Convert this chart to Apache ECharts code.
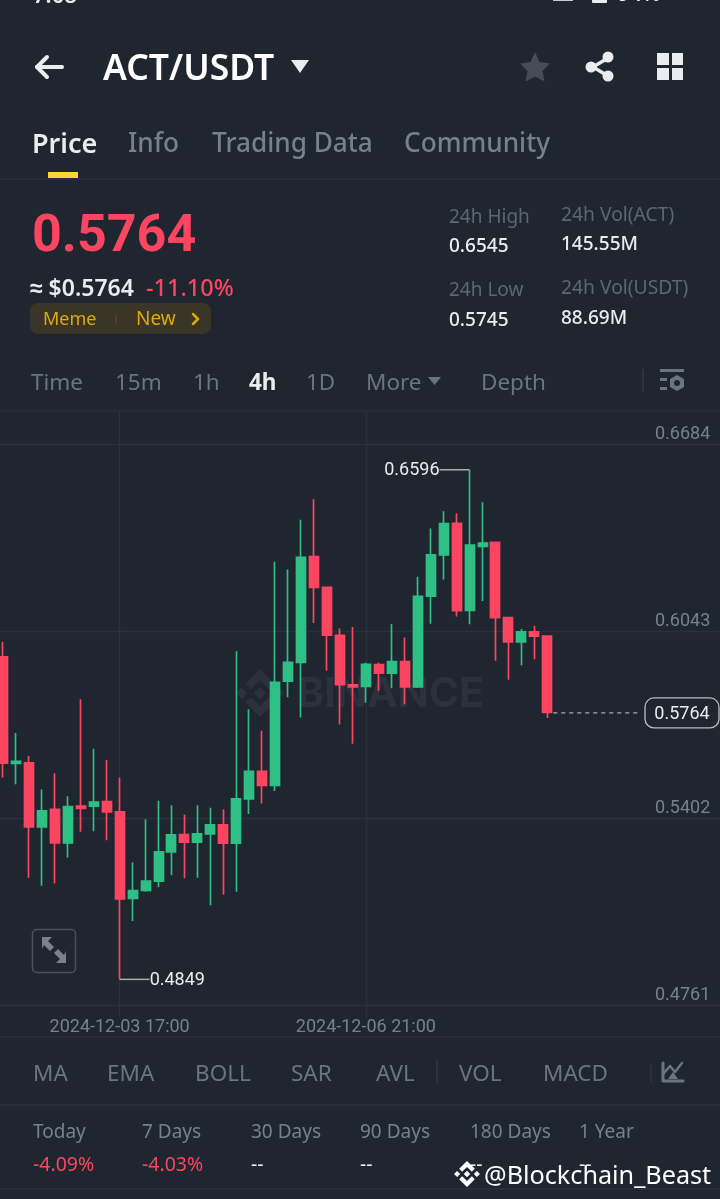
<!DOCTYPE html>
<html><head><meta charset="utf-8">
<style>html,body{margin:0;padding:0;background:#1f2630;overflow:hidden}#c{width:720px;height:1199px}</style>
<script src="https://cdn.jsdelivr.net/npm/echarts@6/dist/echarts.min.js"></script>
</head><body><div id="c"></div>
<script>
// ---- data ----
const opens  = [.5955,.5589,.5591,.5372,.5432,.5317,.5443,.5443,.5458,.5423,.5127,.5154,.5186,.5286,.5345,.5319,.5348,.5379,.5316,.5468,.5562,.5514,.5871,.5936,.6298,.6193,.6028,.5859,.5853,.5928,.5899,.5938,.5852,.6163,.6304,.6412,.6114,.6333,.6347,.6089,.6006,.6040,.6026];
const closes = [.5590,.5596,.5372,.5427,.5317,.5441,.5435,.5457,.5423,.5125,.5153,.5186,.5286,.5344,.5319,.5348,.5379,.5316,.5468,.5562,.5514,.5867,.5936,.6296,.6193,.6029,.5859,.5852,.5929,.5899,.5938,.5852,.6162,.6304,.6411,.6113,.6338,.6345,.6089,.6006,.6040,.6026,.5764];
const lows   = [.5541,.5518,.5197,.5170,.5178,.5267,.5355,.5357,.5326,.4849,.5049,.5149,.5165,.5206,.5196,.5197,.5103,.5139,.5149,.5416,.5452,.5495,.5816,.5747,.6071,.5907,.5723,.5657,.5797,.5838,.5847,.5792,.5848,.6068,.6220,.6093,.6066,.6146,.5941,.5876,.5926,.5946,.5745];
const highs  = [.6006,.5694,.5615,.5500,.5556,.5477,.5809,.5640,.5601,.5541,.5250,.5398,.5461,.5446,.5413,.5446,.5437,.5432,.5974,.5775,.5701,.6281,.6254,.6425,.6495,.6193,.6052,.6057,.5934,.5934,.6067,.6021,.6229,.6395,.6454,.6447,.6596,.6485,.6347,.6089,.6050,.6061,.6026];
const priceTicks = [.4761,.5402,.6043,.6684];
const timeTickIndex = [9,28];
const extremes = [[36,.6596,'left'],[9,.4849,'right']];
const lastPrice = [[42,.5764]];
const startTime = Date.UTC(2024,11,2,5);
const bandCount = 56;
const categories = [];
for(let i=0;i<bandCount;i++){const d=new Date(startTime+i*4*3600e3);
  const p=n=>String(n).padStart(2,'0');
  categories.push(`${d.getUTCFullYear()}-${p(d.getUTCMonth()+1)}-${p(d.getUTCDate())} ${p(d.getUTCHours())}:${p(d.getUTCMinutes())}`);}

const tabs = ['Price','Info','Trading Data','Community'];
const intervals = ['Time','15m','1h','4h','1D','More','Depth'];
const indicators = ['MA','EMA','BOLL','SAR','AVL','VOL','MACD'];
const periods = ['Today','7 Days','30 Days','90 Days','180 Days','1 Year'];
const periodValues = ['-4.09%','-4.03%','--','--','--','--'];

// ---- styles ----
const BG='#1f2630', LINE='#2a303c', RED='#fb4561', GREEN='#2fbf85', WHITE='#eaecef', GREY='#76808f', DIM='#6b7480';
const F='"Noto Sans",sans-serif';
function T(text,x,y,size,fill,weight,family,align){return {type:'text',silent:true,style:{text,x,y,fill,align:align||'left',verticalAlign:'middle',font:`${weight||400} ${size}px ${family||F}`}};}
function R(x,y,w,h,fill,r){return {type:'rect',silent:true,shape:{x,y,width:w,height:h,r:r||0},style:{fill}};}
function L(x1,y1,x2,y2,stroke,lw){return {type:'line',silent:true,shape:{x1,y1,x2,y2},style:{stroke,lineWidth:lw||1.5}};}
function P(points,fill){return {type:'polygon',silent:true,shape:{points},style:{fill}};}
function PL(points,stroke,lw){return {type:'polyline',silent:true,shape:{points},style:{stroke,lineWidth:lw,fill:'none',lineCap:'round',lineJoin:'round'}};}
function C(cx,cy,r,fill){return {type:'circle',silent:true,shape:{cx,cy,r},style:{fill}};}
function diamond(cx,cy,r,fill){return P([[cx,cy-r],[cx+r,cy],[cx,cy+r],[cx-r,cy]],fill);}
function bnbLogo(cx,cy,s,fill){ // chevrons + diamonds
  const e=[diamond(cx,cy,s*.25,fill),diamond(cx-s*.76,cy,s*.24,fill),diamond(cx+s*.76,cy,s*.24,fill)];
  const c=[[0,-1],[.6,-.4],[.37,-.17],[0,-.54],[-.37,-.17],[-.6,-.4]];
  e.push(P(c.map(q=>[cx+s*q[0],cy+s*q[1]]),fill));
  e.push(P(c.map(q=>[cx+s*q[0],cy-s*q[1]]),fill));
  return e;
}
const tabX=[32,128,212,404], intX=[31,115,193,249,306,366,481], indX=[33,107,195,291,376,459,543], perX=[33,142,251,360,470,579];

const g=[];
// status bar, cropped by the top edge
g.push(T('7:08',33,-3,22,WHITE,600));
g.push(R(592,-8,15,11,WHITE,1));
g.push(R(553,-3,20,4,'#c7cad0'));
g.push(T('94%',618,-5,21,WHITE,600));
// watermark
g.push(...bnbLogo(260,693,24,'#2b323d'));
g.push(T('BINANCE',297,695,41,'#2b323d',700,'Inter,sans-serif'));
// header
g.push(PL([[62,67],[37,67]],WHITE,4),PL([[47,57],[37,67],[47,77]],WHITE,4));
g.push(T('ACT/USDT',103,70,35.5,'#ffffff',600));
g.push(P([[291,60],[309,60],[300,73]],WHITE));
g.push(P([[535,52],[539.5,62],[550,63.5],[542.5,71],[544.5,81.5],[535,76.5],[525.5,81.5],[527.5,71],[520,63.5],[530.5,62]],'#474d57'));
g.push(L(593,67,608,58,WHITE,3.5),L(593,67,608,76,WHITE,3.5),C(591,67,5.5,WHITE),C(608,57,5.5,WHITE),C(608,76,5.5,WHITE));
g.push(R(657,53,12,12,WHITE),R(672,53,11,12,WHITE),R(657,68,12,12,WHITE),R(672,68,11,12,WHITE));
// tabs
tabs.forEach((t,i)=>g.push(T(t,tabX[i],145,i?26.2:27,i?GREY:WHITE,i?500:600)));
g.push(R(48,172,30,6,'#fcd535'));
g.push(L(0,179,720,179,LINE,1.5));
// price block
g.push(T('0.5764',32,238,52,RED,700,'Roboto,sans-serif'));
g.push(T('≈ $0.5764',30,289,23,WHITE,600));
g.push(T('-11.10%',146,289,23.5,RED,500));
g.push(R(30,303,181,31,'#3a3527',8));
g.push(T('Meme',43,320,18,'#dcab0b'),T('New',136,320,19,'#dcab0b'),L(116,315,116,323,'#5e5220',1));
g.push(PL([[193,314],[198,319],[193,324]],'#dcab0b',2.5));
// stats
g.push(T('24h High',449,218,19,'#5e6673'),T('0.6545',449,247,19,WHITE,500));
g.push(T('24h Low',449,291,19,'#5e6673'),T('0.5745',449,321,19,WHITE,500));
g.push(T('24h Vol(ACT)',561,216,19.3,'#5e6673'),T('145.55M',561,245,19,WHITE,500));
g.push(T('24h Vol(USDT)',561,289,19.3,'#5e6673'),T('88.69M',561,319,19,WHITE,500));
// interval row
intervals.forEach((t,i)=>g.push(T(t,intX[i],384,22.5,i==3?WHITE:DIM,i==3?700:400)));
g.push(P([[428,377],[441,377],[434.5,385]],DIM));
g.push(L(643,369,643,392,'#3a414d',1));
g.push(R(660,369,24,3,DIM),R(660,378,7,3,DIM),R(660,387,7,3,DIM));
g.push(P([[677,375],[684,379],[684,387],[677,391],[670,387],[670,379]],DIM),C(677,383,3,BG));
// chart frame lines
g.push(L(0,411,720,411,LINE,1.2));
g.push(L(0,1037,720,1037,LINE,1.5));
g.push(L(0,1105,720,1105,LINE,1.5));
g.push(L(0,1189,720,1189,LINE,1.5));
// expand button
g.push({type:'rect',silent:true,shape:{x:32.5,y:929.5,width:43,height:43,r:4},style:{fill:'none',stroke:'#4a515c',lineWidth:1.5}});
g.push(P([[42,937],[52,937],[48,941],[54,947],[50,951],[44,945],[42,949]],'#7a818c'));
g.push(P([[66,963],[56,963],[60,959],[54,953],[58,949],[64,955],[66,951]],'#7a818c'));
// indicators
indicators.forEach((t,i)=>g.push(T(t,indX[i],1075,22.5,DIM)));
g.push(L(437,1060,437,1083,'#3a414d',1),L(651,1064,651,1082,'#333a45',1));
g.push(PL([[663,1063],[663,1081],[683,1081]],DIM,3));
g.push(PL([[664,1073],[670,1066],[675,1072],[682,1063]],DIM,2.5));
g.push(P([[668,1079],[673,1072],[678,1079]],DIM));
// periods
periods.forEach((t,i)=>g.push(T(t,perX[i],1133,19,GREY)));
periodValues.forEach((t,i)=>g.push(T(t,perX[i],1165,19.5,t=='--'?WHITE:RED)));
// author watermark
g.push(...bnbLogo(467,1174,13,'#ffffff'));
g.push(T('@Blockchain_Beast',484,1177,25.2,'#ffffff',400));

function renderExtreme(params,api){
  const p=api.coord([api.value(0),api.value(1)]);
  const dir=extremes[params.dataIndex][2];
  const sign=dir==='left'?-1:1, len=30;
  return {type:'group',children:[
    {type:'line',shape:{x1:p[0],y1:p[1],x2:p[0]+sign*len,y2:p[1]},style:{stroke:'#a9adb3',lineWidth:1.5}},
    {type:'text',style:{text:api.value(1).toFixed(4),x:p[0]+sign*len,y:p[1]+1,fill:'#eaecef',align:dir==='left'?'right':'left',verticalAlign:'middle',font:'400 18px Roboto,sans-serif'}}
  ]};
}
function renderLast(params,api){
  const p=api.coord([api.value(0),api.value(1)]);
  return {type:'group',children:[
    {type:'line',shape:{x1:p[0]+6,y1:p[1]+.5,x2:638,y2:p[1]+.5},style:{stroke:'#a9adb3',lineWidth:1.2,lineDash:[4,4]}},
    {type:'rect',shape:{x:645,y:p[1]-14.5,width:74,height:30,r:9},style:{fill:BG,stroke:'#b9bdc3',lineWidth:1.3}},
    {type:'text',style:{text:api.value(1).toFixed(4),x:682,y:p[1]+2,fill:'#eaecef',align:'center',verticalAlign:'middle',font:'400 18px Roboto,sans-serif'}}
  ]};
}

const chart=echarts.init(document.getElementById('c'),null,{renderer:'canvas',width:720,height:1199});
chart.setOption({
  backgroundColor:BG,animation:false,
  grid:{left:-3.48,top:412,width:12.96*bandCount,height:605,containLabel:false,outerBoundsMode:'none'},
  xAxis:{type:'category',data:categories,boundaryGap:true,
    axisLine:{show:false},axisTick:{show:false},
    axisLabel:{interval:(i)=>timeTickIndex.includes(i),color:GREY,fontSize:18,fontFamily:'Roboto,sans-serif',margin:1,lineHeight:18,hideOverlap:false},
    splitLine:{show:true,alignWithLabel:true,interval:(i)=>timeTickIndex.includes(i),lineStyle:{color:LINE,width:1.3}}},
  yAxis:{type:'value',position:'right',min:.4720,max:.6794,scale:true,
    axisLine:{show:false},
    axisTick:{show:false,customValues:priceTicks},
    axisLabel:{inside:true,margin:12,customValues:priceTicks,formatter:v=>v.toFixed(4),color:GREY,fontSize:18,fontFamily:'Roboto,sans-serif',verticalAlign:'bottom',padding:[0,0,1,0]},
    splitLine:{show:true,lineStyle:{color:LINE,width:1.3}}},
  graphic:{elements:g},
  series:[
    {type:'candlestick',z:3,barWidth:9.5,clip:false,
     data:opens.map((o,i)=>[o,closes[i],lows[i],highs[i]]),
     itemStyle:{color:GREEN,color0:RED,borderColor:GREEN,borderColor0:RED,borderWidth:1.7}},
    {type:'custom',z:4,clip:false,coordinateSystem:'cartesian2d',data:extremes.map(e=>[e[0],e[1]]),renderItem:renderExtreme,silent:true},
    {type:'custom',z:4,clip:false,coordinateSystem:'cartesian2d',data:lastPrice,renderItem:renderLast,silent:true}
  ]
});
</script></body></html>
